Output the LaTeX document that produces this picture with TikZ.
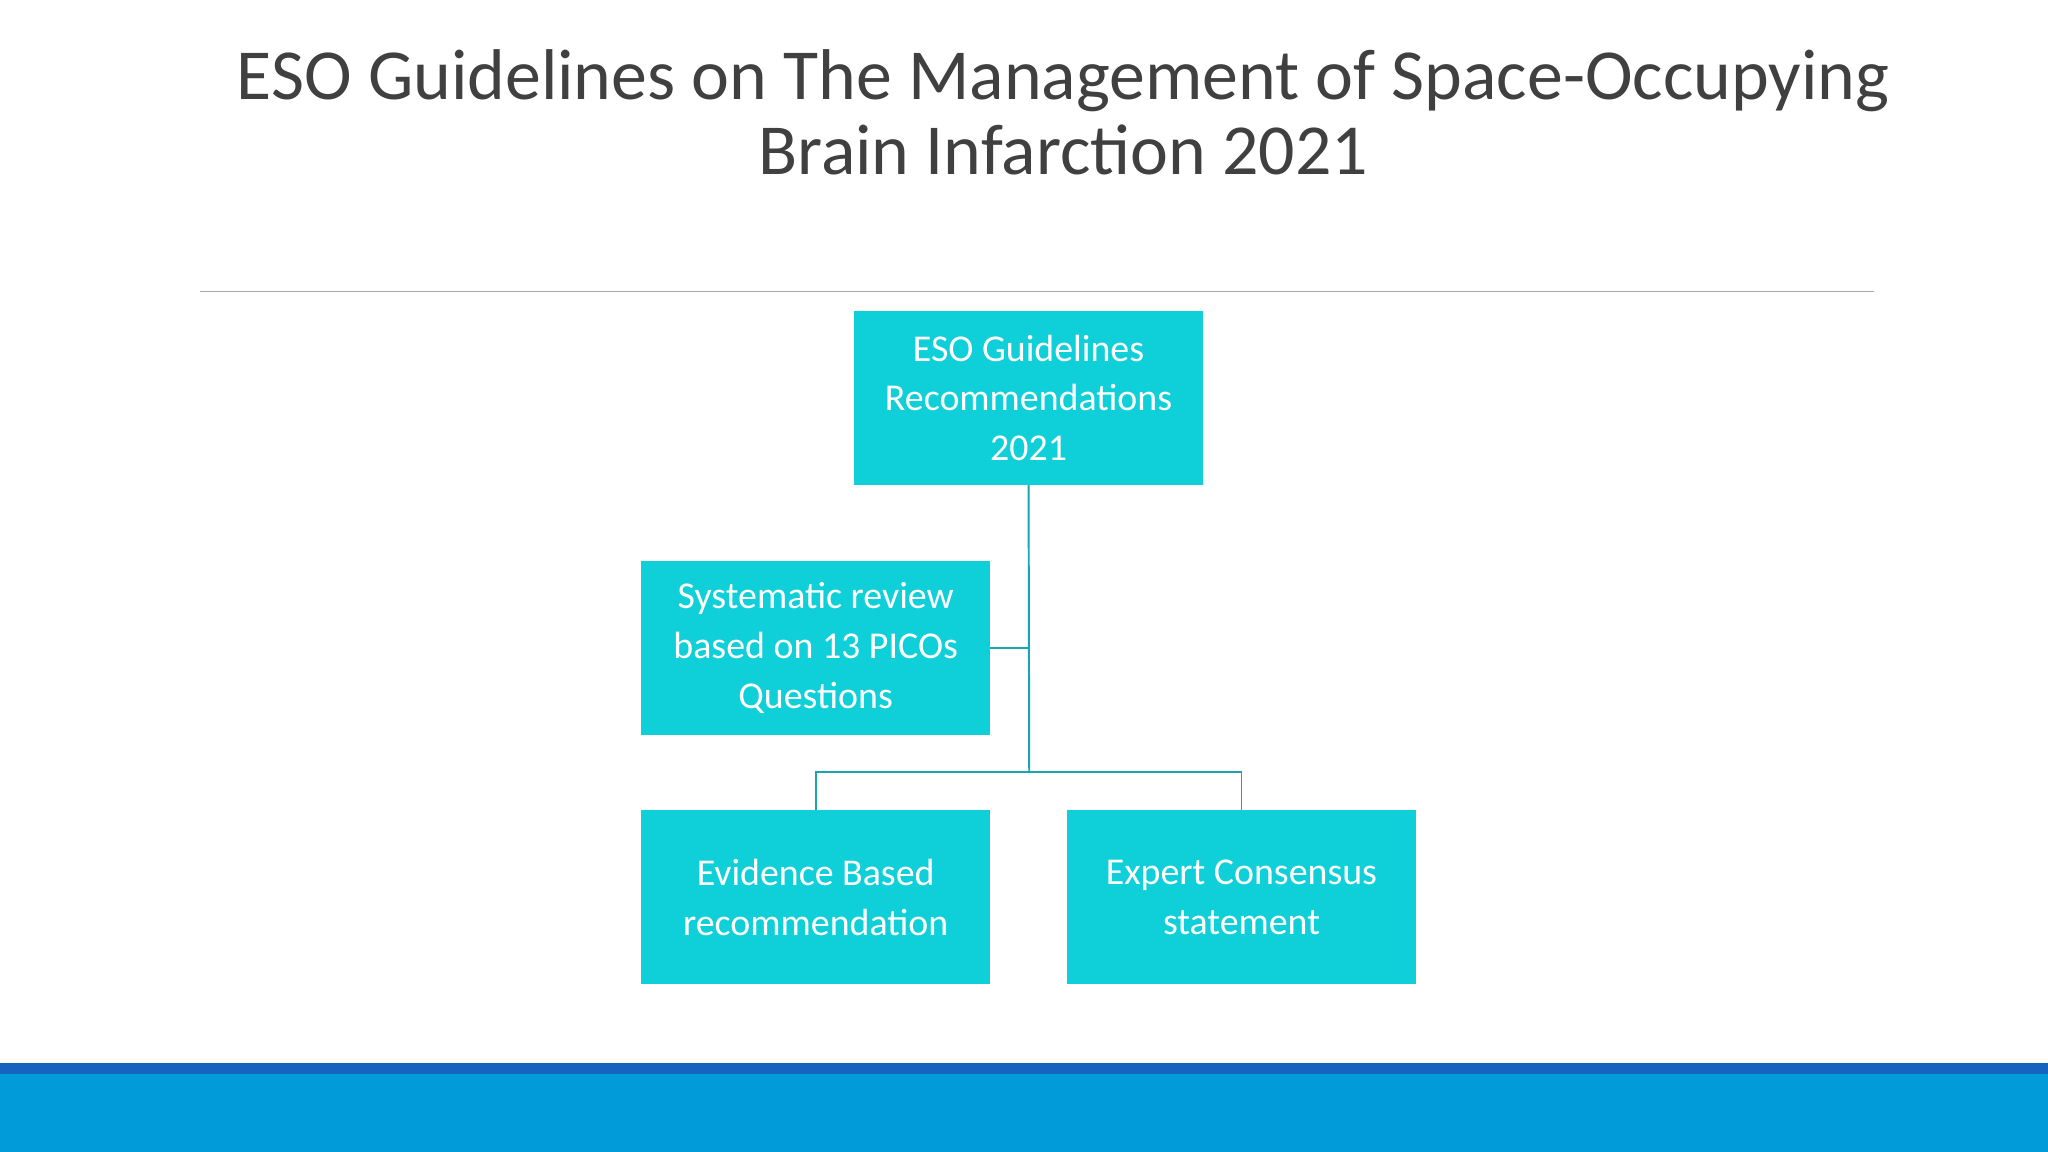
\documentclass[tikz,border=0pt]{standalone}
\usepackage{fontspec}
\setmainfont{Carlito}
\definecolor{boxc}{HTML}{0FCFD9}
\definecolor{linec}{HTML}{1BA3B0}
\definecolor{titlec}{HTML}{404040}
\definecolor{bandc}{HTML}{009BD8}
\definecolor{stripc}{HTML}{1565C0}
\begin{document}
\begin{tikzpicture}[x=1pt,y=-1pt,
  box/.style={fill=boxc,minimum width=267pt,minimum height=133pt,text=white,align=center,font=\fontsize{29}{38}\selectfont,inner sep=0pt},
  conn/.style={draw=linec,line width=1.5pt}]
\useasboundingbox (0,0) rectangle (1568,882);
\fill[white] (0,0) rectangle (1568,882);
\fill[bandc] (0,814) rectangle (1568,882);
\fill[stripc] (0,814) rectangle (1568,822);
\node[text=titlec,align=center,font=\fontsize{55}{58}\selectfont] (title) at (814,86) {ESO Guidelines on The Management of Space-Occupying\\Brain Infarction 2021};
\draw[gray!70,line width=1pt] (153,223) -- (1435,223);
\node[box] (top) at (787.5,304.5) {ESO Guidelines\\Recommendations\\2021};
\node[box] (sr) at (624.5,496) {Systematic review\\based on 13 PICOs\\Questions};
\node[box] (eb) at (624.5,687) {Evidence Based\\recommendation};
\node[box] (ec) at (950.5,687) {Expert Consensus\\statement};
\coordinate (j) at (788,591);
\draw[conn] (top.south) -- (j);
\draw[conn] (sr.east) -- (sr.east -| top.south);
\draw[conn] (eb.north) |- (j) -| (ec.north);
\end{tikzpicture}
\end{document}
